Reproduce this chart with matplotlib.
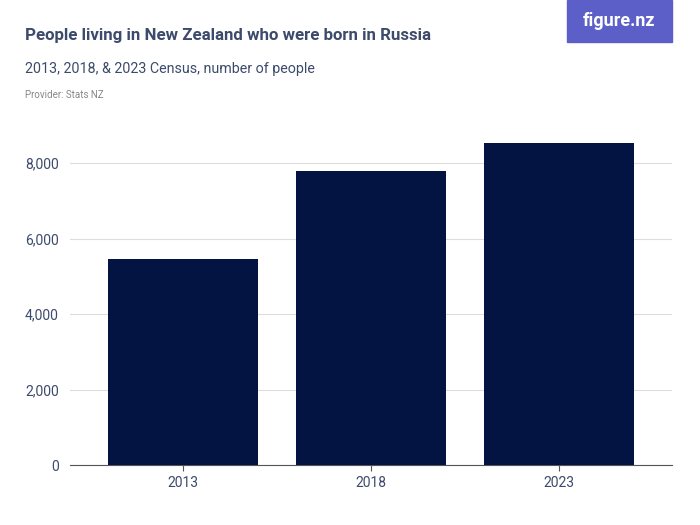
import matplotlib.pyplot as plt
from matplotlib.patches import Rectangle

years = ['2013', '2018', '2023']
people = [5460, 7790, 8530]
yticks = [0, 2000, 4000, 6000, 8000]
ytick_labels = ['0', '2,000', '4,000', '6,000', '8,000']

plt.rcParams['font.family'] = ['Roboto', 'DejaVu Sans']

fig = plt.figure(figsize=(7, 5.25), dpi=100)
ax = fig.add_axes([0.1, 0.114, 0.86, 0.638])

ax.bar(range(len(years)), people, width=0.8, color='#031442', zorder=3)
ax.set_xlim(-0.6, 2.6)
ax.set_ylim(0, 8870)
ax.set_yticks(yticks)
ax.set_yticklabels(ytick_labels)
ax.set_xticks(range(len(years)))
ax.set_xticklabels(years)
ax.grid(axis='y', color='#dddddd', lw=0.8, zorder=0)
for s in ['top', 'right', 'left']:
    ax.spines[s].set_visible(False)
ax.spines['bottom'].set_color('#555555')
ax.tick_params(axis='y', length=0, labelsize=10, labelcolor='#3c4a6b', pad=8)
ax.tick_params(axis='x', length=4, labelsize=10, labelcolor='#3c4a6b', color='#555555')

fig.text(0.036, 0.932, 'People living in New Zealand who were born in Russia',
         fontsize=12.2, fontweight='bold', color='#3c4a6b', va='center')
fig.text(0.036, 0.868, '2013, 2018, & 2023 Census, number of people',
         fontsize=10.3, color='#3c4a6b', va='center')
fig.text(0.036, 0.82, 'Provider: Stats NZ', fontsize=7, color='#888888', va='center')

fig.patches.append(Rectangle((567/700, 1 - 42/525), 105/700, 42/525,
                             transform=fig.transFigure, color='#5b5fc7'))
fig.text(619/700, 1 - 21/525, 'figure.nz', fontsize=13, fontweight='bold',
         color='white', ha='center', va='center')

fig.savefig('out.png', dpi=100)
